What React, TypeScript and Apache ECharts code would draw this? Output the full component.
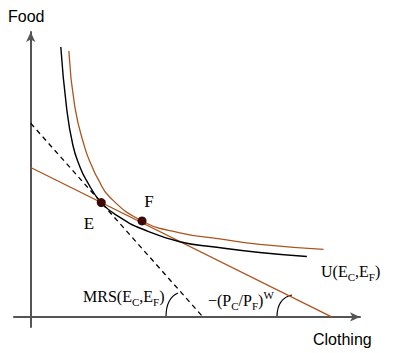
import { useEffect, useRef } from "react";
import * as echarts from "echarts";

// Indifference curve through E (black)
const baseCurveX = [0.9, 1.07, 1.26, 1.47, 1.65, 2.11, 2.66, 3.32, 4.46, 5.5, 6.85, 8.26];
const baseCurveY = [9.34, 7.27, 5.95, 5.2, 4.76, 3.955, 3.45, 3.05, 2.6, 2.42, 2.23, 2.09];
// Higher indifference curve through F (brown)
const highCurveX = [1.14, 1.32, 1.62, 1.85, 2.0, 2.36, 3.33, 4.46, 5.65, 6.85, 8.76];
const highCurveY = [9.2, 7.27, 5.85, 5.16, 4.8, 4.15, 3.32, 2.91, 2.7, 2.51, 2.34];
// Budget line (brown, straight)
const budgetX = [0, 9.0];
const budgetY = [5.17, 0];
// MRS tangent at E (dashed)
const mrsX = [0, 5.15];
const mrsY = [6.7, 0];
// Points
const pointNames = ["E", "F"];
const pointX = [2.11, 3.33];
const pointY = [3.955, 3.32];

const BROWN = "#ab541e";
const SERIF = "'Liberation Serif', 'Times New Roman', serif";
const SANS = "'Liberation Sans', Arial, sans-serif";

const pairs = (xs: number[], ys: number[]) => xs.map((x, i) => [x, ys[i]]);

const richStyles = {
  n: { fontSize: 16, lineHeight: 22, fontFamily: SERIF, fill: "#000" },
  s: { fontSize: 11, lineHeight: 11, verticalAlign: "bottom", fontFamily: SERIF, fill: "#000" },
  p: { fontSize: 11, lineHeight: 11, verticalAlign: "top", fontFamily: SERIF, fill: "#000" },
};

export default function App() {
  const ref = useRef<HTMLDivElement>(null);
  useEffect(() => {
    if (!ref.current) return;
    const chart = echarts.init(ref.current, null, { renderer: "svg" });
    const axisLine = {
      show: true,
      onZero: true,
      symbol: ["none", "arrow"],
      symbolSize: [7, 10],
      lineStyle: { color: "#555", width: 2 },
    };
    chart.setOption({
      animation: false,
      backgroundColor: "#fff",
      grid: { left: 14, right: 34, top: 32, bottom: 26 },
      xAxis: {
        type: "value",
        min: -0.5,
        max: 9.85,
        axisLine,
        axisTick: { show: false },
        axisLabel: { show: false },
        splitLine: { show: false },
      },
      yAxis: {
        type: "value",
        min: -0.35,
        max: 9.86,
        axisLine,
        axisTick: { show: false },
        axisLabel: { show: false },
        splitLine: { show: false },
      },
      series: [
        {
          type: "line",
          data: pairs(mrsX, mrsY),
          showSymbol: false,
          lineStyle: { color: "#000", width: 1.3, type: [5, 4] },
          z: 2,
        },
        {
          type: "line",
          data: pairs(budgetX, budgetY),
          showSymbol: false,
          lineStyle: { color: BROWN, width: 1.3 },
          z: 2,
        },
        {
          type: "line",
          data: pairs(baseCurveX, baseCurveY),
          showSymbol: false,
          smooth: 0.5,
          lineStyle: { color: "#000", width: 1.4 },
          z: 3,
        },
        {
          type: "line",
          data: pairs(highCurveX, highCurveY),
          showSymbol: false,
          smooth: 0.5,
          lineStyle: { color: BROWN, width: 1.3 },
          z: 3,
        },
        {
          type: "scatter",
          data: pointNames.map((n, i) => ({ name: n, value: [pointX[i], pointY[i]] })),
          symbolSize: 9,
          itemStyle: { color: "#3f0808", opacity: 1 },
          z: 5,
        },
      ],
      graphic: [
        { type: "text", left: 8, top: 8, style: { text: "Food", font: `16px ${SANS}`, fill: "#000" } },
        { type: "text", left: 313, top: 331, style: { text: "Clothing", font: `16px ${SANS}`, fill: "#000" } },
        { type: "text", x: 149, y: 201, style: { text: "F", font: `17px ${SERIF}`, fill: "#000", align: "center", verticalAlign: "middle" } },
        { type: "text", x: 89, y: 223, style: { text: "E", font: `17px ${SERIF}`, fill: "#000", align: "center", verticalAlign: "middle" } },
        {
          type: "text",
          x: 321,
          y: 271.6,
          style: {
            text: "{n|U(E}{s|C}{n|,E}{s|F}{n|)}",
            rich: richStyles,
            align: "left",
            verticalAlign: "middle",
          },
        },
        {
          type: "text",
          x: 83,
          y: 296.6,
          style: {
            text: "{n|MRS(E}{s|C}{n|,E}{s|F}{n|)}",
            rich: richStyles,
            align: "left",
            verticalAlign: "middle",
          },
        },
        {
          type: "text",
          x: 208,
          y: 300.6,
          style: {
            text: "{n|\u2212(P}{s|C}{n|/P}{s|F}{n|)}{p|W}",
            rich: richStyles,
            align: "left",
            verticalAlign: "middle",
          },
        },
        {
          type: "bezierCurve",
          shape: { x1: 166, y1: 317, cpx1: 166, cpy1: 304, cpx2: 171, cpy2: 296, x2: 178, y2: 293 },
          style: { stroke: "#000", lineWidth: 1.2, fill: null },
        },
        {
          type: "bezierCurve",
          shape: { x1: 277, y1: 317, cpx1: 277, cpy1: 304, cpx2: 283, cpy2: 297, x2: 292, y2: 295 },
          style: { stroke: "#000", lineWidth: 1.2, fill: null },
        },
      ],
    });
    return () => chart.dispose();
  }, []);
  return <div ref={ref} style={{ width: 394, height: 353, position: "absolute", left: 0, top: 0 }} />;
}
